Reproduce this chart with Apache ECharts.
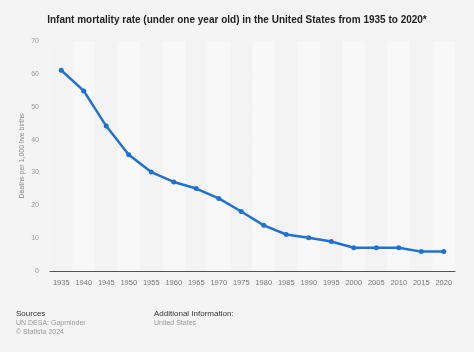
<!DOCTYPE html>
<html>
<head>
<meta charset="utf-8">
<script src="https://cdn.jsdelivr.net/npm/echarts@6/dist/echarts.min.js"></script>
<style>
  html, body { margin: 0; padding: 0; background: #f4f4f4; }
  #chart { width: 474px; height: 352px; }
</style>
</head>
<body>
<div id="chart"></div>
<script>
const years = ['1935','1940','1945','1950','1955','1960','1965','1970','1975','1980','1985','1990','1995','2000','2005','2010','2015','2020'];
const deaths = [61.1, 54.8, 44.1, 35.4, 30.1, 27.1, 25.1, 22.1, 18.1, 13.9, 11.1, 10.1, 9.0, 7.1, 7.1, 7.1, 5.9, 5.9];

const chart = echarts.init(document.getElementById('chart'));
const font = 'Liberation Sans, Arial, sans-serif';
chart.setOption({
  backgroundColor: '#f4f4f4',
  animation: false,
  title: {
    text: 'Infant mortality rate (under one year old) in the United States from 1935 to 2020*',
    left: 'center',
    top: 10,
    textStyle: { fontFamily: font, fontSize: 10, fontWeight: 'bold', color: '#222' }
  },
  grid: { left: 50, right: 19, top: 41, bottom: 81 },
  xAxis: {
    type: 'category',
    data: years,
    axisLine: { lineStyle: { color: '#555', width: 1 } },
    axisTick: { show: false },
    axisLabel: { fontFamily: font, fontSize: 7.5, color: '#777', margin: 8, interval: 0 },
    splitArea: { show: true, areaStyle: { color: ['#f3f3f3', '#f8f8f8'] } }
  },
  yAxis: {
    type: 'value',
    min: 0,
    max: 70,
    interval: 10,
    name: 'Deaths per 1,000 live births',
    nameLocation: 'middle',
    nameGap: 24,
    nameMoveOverlap: false,
    nameTextStyle: { fontFamily: font, fontSize: 7, color: '#888' },
    axisLine: { show: false },
    axisTick: { show: false },
    axisLabel: { fontFamily: font, fontSize: 7, color: '#999', margin: 11 },
    splitLine: { lineStyle: { color: '#e6e6e6', width: 1 } }
  },
  series: [{
    type: 'line',
    data: deaths,
    symbol: 'circle',
    symbolSize: 5,
    lineStyle: { color: '#2171d3', width: 2.5 },
    itemStyle: { color: '#2171d3' }
  }],
  graphic: [
    { type: 'text', left: 16, top: 310, style: { text: 'Sources', font: '8px ' + font, fill: '#333' } },
    { type: 'text', left: 16, top: 320, style: { text: 'UN DESA; Gapminder', font: '7px ' + font, fill: '#999' } },
    { type: 'text', left: 16, top: 329, style: { text: '© Statista 2024', font: '7px ' + font, fill: '#999' } },
    { type: 'text', left: 154, top: 310, style: { text: 'Additional Information:', font: '8px ' + font, fill: '#333' } },
    { type: 'text', left: 154, top: 320, style: { text: 'United States', font: '7px ' + font, fill: '#999' } }
  ]
});
</script>
</body>
</html>
